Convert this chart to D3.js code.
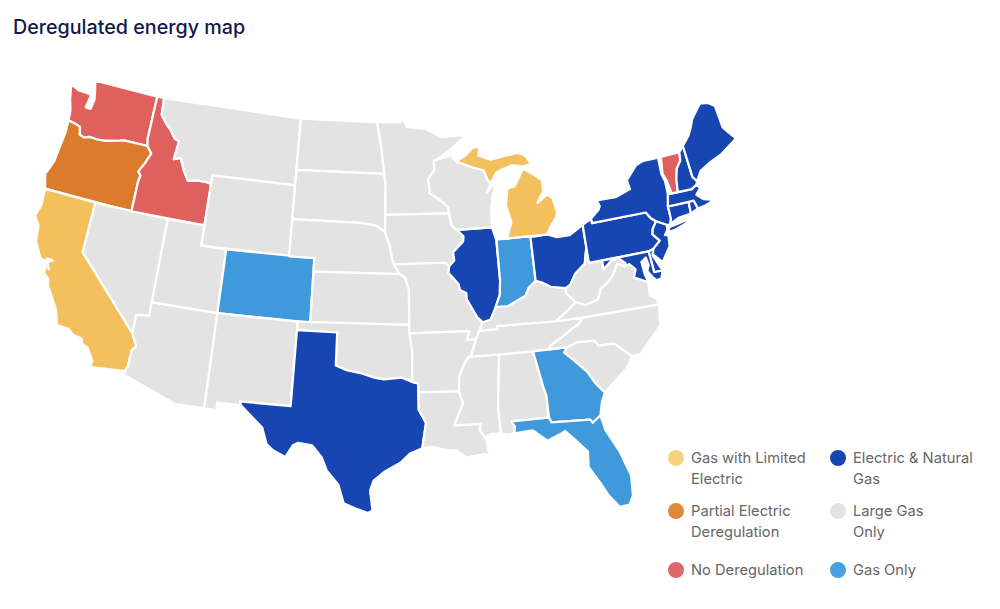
<!DOCTYPE html>
<html>
<head>
<meta charset="utf-8">
<script src="https://cdn.jsdelivr.net/npm/d3@7"></script>
<style>
html, body { margin: 0; background: #fff; }
text { font-family: Inter, "Noto Sans", sans-serif; }
</style>
</head>
<body>
<div id="chart"></div>
<script>
var titleText = 'Deregulated energy map';

var categories = ['limited', 'electricGas', 'partial', 'largeGas', 'none', 'gasOnly'];
var categoryColors = ['#F4C05E', '#1746B2', '#DB7C2D', '#E3E3E3', '#DF605C', '#4099DB'];
var legendColors = ['#F7D27F', '#1746B2', '#E0883A', '#E3E3E3', '#E1686A', '#4A9FDF'];
var legendLabels = [
  ['Gas with Limited', 'Electric'],
  ['Electric & Natural', 'Gas'],
  ['Partial Electric', 'Deregulation'],
  ['Large Gas', 'Only'],
  ['No Deregulation'],
  ['Gas Only']
];

var stateNames = ['WA','OR','CA','NV','ID','MT','WY','UT','CO','AZ','NM','ND','SD','NE','KS','OK','TX','MN','IA','MO','AR','LA','MS','AL','TN','KY','IL','IN','OH','MI','WI','GA','FL','SC','NC','VA','WV','PA','NY','NJ','DE','MD','CT','RI','MA','VT','NH','ME'];

var stateCategories = ['none','partial','limited','largeGas','none','largeGas','largeGas','largeGas','gasOnly','largeGas','largeGas','largeGas','largeGas','largeGas','largeGas','largeGas','electricGas','largeGas','largeGas','largeGas','largeGas','largeGas','largeGas','largeGas','largeGas','largeGas','electricGas','gasOnly','electricGas','limited','largeGas','gasOnly','gasOnly','largeGas','largeGas','largeGas','largeGas','electricGas','electricGas','electricGas','electricGas','electricGas','electricGas','electricGas','electricGas','none','electricGas','electricGas'];

var stateOutlines = [
  [[[-124.7,48.38],[-123.9,48.17],[-123.1,48.15],[-122.75,48.1],[-122.9,47.3],[-122.45,47.3],[-122.35,47.9],[-122.5,48.4],[-122.75,49],[-117.03,49],[-117.04,46.42],[-116.92,45.99],[-118.98,46],[-119.3,45.93],[-120.5,45.7],[-121.2,45.65],[-121.9,45.68],[-122.3,45.55],[-122.75,45.65],[-122.9,46.1],[-123.4,46.2],[-124,46.27],[-124.1,46.9],[-124.4,47.5]]],
  [[[-124,46.27],[-123.4,46.2],[-122.9,46.1],[-122.75,45.65],[-122.3,45.55],[-121.9,45.68],[-121.2,45.65],[-120.5,45.7],[-119.3,45.93],[-118.98,46],[-116.92,45.99],[-116.46,45.6],[-116.85,44.9],[-117.2,44.4],[-116.95,44.2],[-117.03,43.8],[-117.03,42],[-124.21,42],[-124.55,42.84],[-124.15,43.7],[-124.05,44.7],[-123.95,45.5]]],
  [[[-124.21,42],[-120,42],[-120,39],[-115,35],[-114.55,34.3],[-114.8,34],[-114.85,33.03],[-115,32.72],[-117.5,32.53],[-117.4,32.9],[-117.95,33.6],[-118.4,33.75],[-118.5,34.03],[-119.2,34.15],[-119.6,34.42],[-120.5,34.45],[-120.65,34.9],[-120.9,35.4],[-121.9,36.6],[-122,36.96],[-122.4,37.2],[-122.5,37.75],[-122.15,37.5],[-122.4,37.88],[-122.05,38.07],[-122.5,38.1],[-122.6,37.9],[-123,38],[-123.7,38.9],[-123.85,39.8],[-124.35,40.3],[-124.1,41]]],
  [[[-120,42],[-114.04,42],[-114.04,36.2],[-115,36.1],[-115,35],[-120,39]]],
  [[[-117.03,49],[-116.4,49],[-116.3,48],[-115.7,47.5],[-115.3,47.25],[-114.75,46.75],[-114.35,46.65],[-114.5,45.55],[-113.95,45.7],[-113.45,44.95],[-113,44.45],[-112.3,44.55],[-111.5,44.55],[-111.05,44.48],[-111.05,42],[-117.03,42],[-117.03,43.8],[-116.95,44.2],[-117.2,44.4],[-116.85,44.9],[-116.46,45.6],[-116.92,45.99],[-117.04,46.42]]],
  [[[-116.4,49],[-104.05,49],[-104.05,45],[-111.05,45],[-111.05,44.48],[-111.5,44.55],[-112.3,44.55],[-113,44.45],[-113.45,44.95],[-113.95,45.7],[-114.5,45.55],[-114.35,46.65],[-114.75,46.75],[-115.3,47.25],[-115.7,47.5],[-116.3,48]]],
  [[[-111.05,45],[-104.05,45],[-104.05,40.8],[-111.05,40.8]]],
  [[[-114.04,42],[-111.05,42],[-111.05,40.8],[-109.05,40.8],[-109.05,37],[-114.04,37]]],
  [[[-109.05,40.8],[-102.05,40.8],[-102.05,37],[-109.05,37]]],
  [[[-114.04,37],[-109.05,37],[-109.05,31.33],[-111.07,31.33],[-115,32.5],[-115,32.72],[-114.85,33.03],[-114.8,34],[-114.55,34.3],[-115,35],[-115,36.1],[-114.04,36.2]]],
  [[[-109.05,37],[-103,37],[-103.05,32],[-106.62,32],[-106.53,31.78],[-108.2,31.78],[-108.2,31.33],[-109.05,31.33]]],
  [[[-104.05,49],[-97.23,49],[-96.85,47.6],[-96.56,45.93],[-104.05,45.93]]],
  [[[-104.05,45.93],[-96.56,45.93],[-96.45,45.3],[-96.45,43.5],[-96.48,42.5],[-97.2,42.85],[-98.5,43],[-104.05,43]]],
  [[[-104.05,43],[-98.5,43],[-97.2,42.85],[-96.48,42.5],[-96.1,41.7],[-95.85,40.75],[-95.31,40],[-102.05,40],[-102.05,40.8],[-104.05,40.8]]],
  [[[-102.05,40],[-95.31,40],[-94.9,39.8],[-94.61,39.1],[-94.62,37],[-102.05,37]]],
  [[[-103,37],[-94.62,37],[-94.43,35.4],[-94.48,33.64],[-95.2,33.9],[-96.5,33.8],[-97.2,33.9],[-98.1,34.13],[-99.2,34.3],[-100,34.56],[-100,36.5],[-103,36.5]]],
  [[[-103,36.5],[-100,36.5],[-100,34.56],[-99.2,34.3],[-98.1,34.13],[-97.2,33.9],[-96.5,33.8],[-95.2,33.9],[-94.48,33.64],[-94.04,33.55],[-94.04,32],[-93.55,31.2],[-93.7,30.5],[-93.85,29.7],[-94.7,29.4],[-95.3,28.9],[-96.4,28.35],[-97.15,27.8],[-97.38,27.2],[-97.2,26],[-97.5,25.85],[-98.2,26.07],[-99.1,26.4],[-99.5,27.5],[-100.3,28.3],[-100.7,29.1],[-101.4,29.77],[-102.35,29.87],[-102.7,29.7],[-103.15,28.98],[-104,29.3],[-104.5,29.65],[-104.9,30.6],[-106,31.4],[-106.53,31.78],[-106.62,32],[-103.05,32]]],
  [[[-97.23,49],[-95.15,49],[-95.15,49.15],[-94.8,49.1],[-94.6,48.72],[-93,48.6],[-91.5,48.05],[-90,48.1],[-89.5,48],[-90.8,47.3],[-92.05,46.72],[-92.3,46.65],[-92.3,46.1],[-92.85,45.6],[-92.75,45],[-92.75,44.75],[-91.9,44.3],[-91.25,43.85],[-91.22,43.5],[-96.45,43.5],[-96.45,45.3],[-96.56,45.93],[-96.85,47.6]]],
  [[[-96.45,43.5],[-91.22,43.5],[-91.05,42.75],[-90.65,42.5],[-90.15,42.1],[-90.2,41.8],[-91.05,41.2],[-91,40.7],[-91.42,40.38],[-91.72,40.6],[-95.77,40.58],[-95.85,40.75],[-96.1,41.7],[-96.48,42.5]]],
  [[[-95.77,40.58],[-91.72,40.6],[-91.42,40.38],[-91.5,40],[-90.75,39.3],[-90.68,38.95],[-90.2,38.75],[-90.2,38.4],[-89.5,37.3],[-89.1,36.97],[-89.4,36.5],[-89.7,36],[-90.37,36],[-90.15,36.5],[-94.62,36.5],[-94.62,37],[-94.61,39.1],[-94.9,39.8],[-95.31,40]]],
  [[[-94.62,36.5],[-90.15,36.5],[-90.37,36],[-89.7,36],[-90.1,35.1],[-90.6,34.7],[-91.05,33.9],[-91.17,33],[-94.04,33.02],[-94.04,33.55],[-94.48,33.64],[-94.43,35.4]]],
  [[[-94.04,33.02],[-91.17,33],[-90.9,32.3],[-91.6,31],[-89.73,31],[-89.85,30.65],[-89.55,30.2],[-89.4,30],[-89.4,29.4],[-89.1,29.05],[-89.6,29.2],[-90.1,29.15],[-90.9,29.05],[-91.5,29.5],[-92.2,29.55],[-93.2,29.78],[-93.85,29.7],[-93.7,30.5],[-93.55,31.2],[-94.04,32]]],
  [[[-90.3,35],[-88.2,35],[-88.1,34.9],[-88.47,31.9],[-88.4,30.35],[-89.1,30.35],[-89.55,30.2],[-89.85,30.65],[-89.73,31],[-91.6,31],[-90.9,32.3],[-91.17,33],[-91.05,33.9],[-90.6,34.7]]],
  [[[-88.2,35],[-85.6,35],[-85.15,32.85],[-85,32.3],[-85,31],[-87.6,31],[-87.4,30.65],[-87.5,30.28],[-88,30.25],[-88.4,30.35],[-88.47,31.9],[-88.1,34.9]]],
  [[[-90.3,35],[-90.1,35.1],[-89.7,36],[-89.4,36.5],[-88.05,36.5],[-88.07,36.68],[-83.68,36.6],[-81.68,36.59],[-81.9,36.3],[-82.6,36],[-83.1,35.75],[-84.3,35.2],[-84.32,34.99],[-85.6,35],[-88.2,35]]],
  [[[-89.4,36.5],[-89.1,36.97],[-88.5,37.1],[-88.05,37.8],[-87.1,37.8],[-86.3,38.1],[-85.7,38.3],[-85.4,38.75],[-84.8,39.1],[-84.3,38.95],[-83.7,38.65],[-82.6,38.45],[-82.6,38.15],[-81.97,37.54],[-82.7,37.1],[-83.68,36.6],[-88.07,36.68],[-88.05,36.5]]],
  [[[-90.65,42.5],[-87.8,42.5],[-87.55,41.75],[-87.53,39.35],[-87.65,38.5],[-88.05,37.8],[-88.5,37.1],[-89.1,36.97],[-89.5,37.3],[-90.2,38.4],[-90.2,38.75],[-90.68,38.95],[-90.75,39.3],[-91.5,40],[-91.42,40.38],[-91,40.7],[-91.05,41.2],[-90.2,41.8],[-90.15,42.1]]],
  [[[-87.53,41.75],[-87.2,41.76],[-86.82,41.76],[-84.8,41.76],[-84.8,39.1],[-85.4,38.75],[-85.7,38.3],[-86.3,38.1],[-87.1,37.8],[-88.05,37.8],[-87.65,38.5],[-87.53,39.35]]],
  [[[-84.8,41.7],[-83.45,41.73],[-82.7,41.5],[-81.7,41.5],[-80.52,41.98],[-80.52,40.64],[-80.85,39.7],[-81.7,39.2],[-82.2,38.6],[-82.6,38.45],[-83.7,38.65],[-84.3,38.95],[-84.8,39.1]]],
  [[[-86.82,41.76],[-84.8,41.76],[-83.45,41.73],[-83.15,42.1],[-82.5,42.7],[-82.42,43],[-82.6,43.8],[-83,44.07],[-83.9,43.65],[-83.3,44.3],[-83.3,45],[-84.75,45.78],[-85.6,44.8],[-86.25,44.7],[-86.5,43.7],[-86.2,42.7],[-86.6,41.9]],
   [[-90.4,46.55],[-89.5,46.9],[-88.9,47.3],[-88.3,47.35],[-88.45,46.8],[-87.4,46.5],[-86.2,46.65],[-85,46.75],[-84.4,46.5],[-84,46],[-84.75,45.9],[-85.6,46.05],[-86.6,45.85],[-87.05,45.7],[-87.6,45.1],[-87.85,45.35],[-88.1,45.9],[-89.1,46.15]]],
  [[[-92.3,46.65],[-92.05,46.72],[-90.8,46.9],[-90.4,46.55],[-89.1,46.15],[-88.1,45.9],[-87.85,45.35],[-87.6,45.1],[-88,44.55],[-87.05,45.25],[-87.5,44.4],[-87.75,43.5],[-87.8,42.5],[-90.65,42.5],[-91.05,42.75],[-91.22,43.5],[-91.25,43.85],[-91.9,44.3],[-92.75,44.75],[-92.75,45],[-92.85,45.6],[-92.3,46.1]]],
  [[[-85.6,35],[-84.32,34.99],[-83.1,35],[-83.35,34.7],[-82.75,34.2],[-81.9,33.4],[-81.4,32.6],[-80.88,32.03],[-81.2,31.5],[-81.45,30.72],[-82.05,30.36],[-82.2,30.57],[-84.86,30.7],[-85,31],[-85,32.3],[-85.15,32.85]]],
  [[[-87.6,31],[-85,31],[-84.86,30.7],[-82.2,30.57],[-82.05,30.36],[-81.45,30.72],[-81.25,29.8],[-80.55,28.45],[-80.05,26.9],[-80.15,25.7],[-80.45,25.2],[-81.1,25.15],[-81.75,26],[-82.1,26.7],[-82.75,27.8],[-82.65,28.7],[-83.4,29.5],[-84,30.1],[-84.35,29.95],[-85.3,29.65],[-86.2,30.35],[-87.5,30.28],[-87.4,30.65]]],
  [[[-83.1,35],[-82.4,35.2],[-81.05,35.15],[-80.8,34.82],[-79.67,34.8],[-78.55,33.87],[-79.1,33.2],[-79.9,32.7],[-80.88,32.03],[-81.4,32.6],[-81.9,33.4],[-82.75,34.2],[-83.35,34.7]]],
  [[[-84.32,34.99],[-84.3,35.2],[-83.1,35.75],[-82.6,36],[-81.9,36.3],[-81.68,36.59],[-75.87,36.55],[-76.1,35.3],[-76.9,34.7],[-77.9,33.9],[-78.55,33.87],[-79.67,34.8],[-80.8,34.82],[-81.05,35.15],[-82.4,35.2],[-83.1,35]]],
  [[[-83.68,36.6],[-82.7,37.1],[-81.97,37.54],[-81.3,37.3],[-80.3,37.5],[-79.95,38.1],[-79.3,38.42],[-78.87,38.76],[-78.35,39.4],[-77.83,39.13],[-77.45,39.22],[-77.05,38.85],[-77.3,38.4],[-76.3,37.95],[-76.4,37.2],[-75.95,36.9],[-75.87,36.55],[-81.68,36.59]]],
  [[[-82.6,38.15],[-82.6,38.45],[-82.2,38.6],[-81.7,39.2],[-80.85,39.7],[-80.52,40.64],[-80.52,39.72],[-79.48,39.72],[-79.48,39.2],[-78.8,39.6],[-78.2,39.68],[-77.72,39.32],[-77.83,39.13],[-78.35,39.4],[-78.87,38.76],[-79.3,38.42],[-79.95,38.1],[-80.3,37.5],[-81.3,37.3],[-81.97,37.54]]],
  [[[-80.52,41.98],[-79.76,42.27],[-79.76,42],[-75.35,42],[-75.05,41.6],[-74.7,41.36],[-75.1,40.95],[-75.2,40.65],[-74.75,40.2],[-75.4,39.8],[-75.79,39.72],[-80.52,39.72]]],
  [[[-79.76,42.27],[-79.05,42.7],[-78.9,42.9],[-79.05,43.27],[-77.5,43.25],[-76.2,43.55],[-76.3,44.1],[-75.3,44.85],[-74.7,45],[-73.35,45],[-73.4,44],[-73.25,43.55],[-73.27,42.75],[-73.5,42.05],[-73.5,41.3],[-73.65,41],[-73.92,41],[-74.7,41.36],[-75.05,41.6],[-75.35,42],[-79.76,42]],
   [[-74,40.6],[-73.75,40.85],[-72.6,40.98],[-72,41.1],[-72.5,40.8],[-73.5,40.6]]],
  [[[-74.7,41.36],[-73.92,41],[-74,40.7],[-74.25,40.45],[-74,40.4],[-74.1,39.75],[-74.9,38.93],[-75.5,39.5],[-75.4,39.8],[-74.75,40.2],[-75.2,40.65],[-75.1,40.95]]],
  [[[-75.79,39.72],[-75.4,39.8],[-75.55,39.45],[-75.05,38.45],[-75.7,38.46]]],
  [[[-79.48,39.72],[-75.79,39.72],[-75.7,38.46],[-75.05,38.45],[-75.25,38.03],[-75.65,37.95],[-75.9,38.2],[-76.2,38.6],[-76,38.95],[-76.1,39.4],[-76.5,39.2],[-76.45,38.5],[-76.3,37.95],[-77.3,38.4],[-77.05,38.85],[-77.45,39.22],[-77.83,39.13],[-77.72,39.32],[-78.2,39.68],[-78.8,39.6],[-79.48,39.2]]],
  [[[-73.5,42.05],[-71.8,42.02],[-71.85,41.32],[-72.9,41.25],[-73.65,41],[-73.5,41.3]]],
  [[[-71.8,42.02],[-71.38,42.02],[-71.2,41.5],[-71.85,41.32]]],
  [[[-73.5,42.05],[-73.27,42.75],[-71.3,42.7],[-70.85,42.87],[-70.6,42.65],[-71.05,42.3],[-70.6,41.95],[-70,41.8],[-70.2,42.07],[-69.95,41.7],[-70.65,41.55],[-71.2,41.5],[-71.38,42.02],[-71.8,42.02]]],
  [[[-73.1,45],[-71.5,45],[-71.6,44.5],[-72.05,44.1],[-72.3,43.5],[-72.45,42.73],[-72.95,42.75],[-73.1,43.55],[-73.3,44]]],
  [[[-71.5,45],[-71.08,45.3],[-70.98,43.4],[-70.7,43.07],[-70.85,42.87],[-71.3,42.7],[-72.45,42.73],[-72.3,43.5],[-72.05,44.1],[-71.6,44.5]]],
  [[[-71.08,45.3],[-70.4,45.8],[-70.05,46.2],[-69.7,46.7],[-68.7,47.46],[-68,47.36],[-67.5,47.07],[-67.4,45.7],[-67.05,45.3],[-66.6,44.85],[-68.2,44.2],[-69.2,43.95],[-70.2,43.6],[-70.7,43.07],[-70.98,43.4]]]
];

var w = 1000;
var h = 609;

var svg = d3.select('#chart').append('svg')
  .attr('width', w)
  .attr('height', h)
  .style('display', 'block');

svg.append('text')
  .attr('x', 13)
  .attr('y', 34)
  .attr('fill', '#111B47')
  .attr('font-size', 19.7)
  .attr('font-weight', 500)
  .text(titleText);

var color = d3.scaleOrdinal().domain(categories).range(categoryColors);

function closeRing(ring) {
  var r = ring.concat([ring[0]]);
  // d3 wants the small side of the ring
  if (d3.geoArea({type: 'Polygon', coordinates: [r]}) > 2 * Math.PI) r.reverse();
  return [r];
}

var features = stateNames.map(function(name, i) {
  return {
    type: 'Feature',
    properties: {name: name, category: stateCategories[i]},
    geometry: {type: 'MultiPolygon', coordinates: stateOutlines[i].map(closeRing)}
  };
});

var projection = d3.geoAlbers()
  .parallels([29.5, 45.5])
  .rotate([96, 0])
  .center([0, 38])
  .fitExtent([[35, 85], [736, 513]], {type: 'FeatureCollection', features: features});

var path = d3.geoPath(projection);

// reference map is a touch wider and taller than plain albers
svg.append('g')
  .attr('transform', 'translate(385,510) scale(1.012,1.01) translate(-385,-510)')
  .selectAll('path')
  .data(features)
  .enter()
  .append('path')
  .attr('d', path)
  .attr('fill', function(d) { return color(d.properties.category); })
  .attr('stroke', '#fff')
  .attr('stroke-width', 2.2)
  .attr('stroke-linejoin', 'round');

var legendX = d3.scaleOrdinal().domain([0, 1]).range([676, 838]);
var legendY = d3.scaleOrdinal().domain([0, 1, 2]).range([458, 511, 570]);

var legend = svg.append('g').selectAll('g')
  .data(legendLabels)
  .enter()
  .append('g')
  .attr('transform', function(d, i) {
    return 'translate(' + legendX(i % 2) + ',' + legendY(Math.floor(i / 2)) + ')';
  });

legend.append('circle')
  .attr('r', 8)
  .attr('fill', function(d, i) { return legendColors[i]; });

legend.append('text')
  .attr('fill', '#666')
  .attr('font-size', 14.7)
  .selectAll('tspan')
  .data(function(d) { return d; })
  .enter()
  .append('tspan')
  .attr('x', 15)
  .attr('y', function(d, i) { return 5 + i * 21; })
  .text(function(d) { return d; });
</script>
</body>
</html>
